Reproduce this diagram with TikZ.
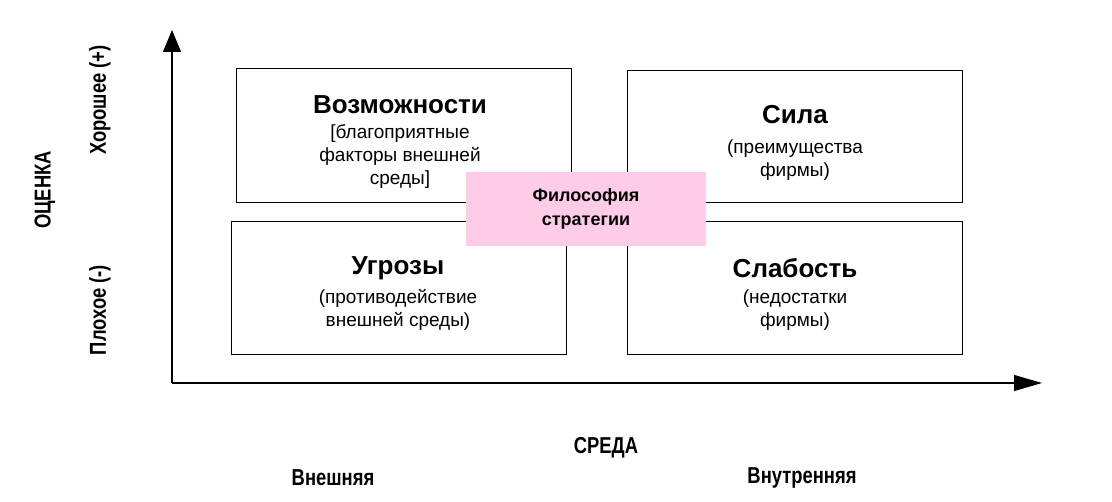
\documentclass[tikz,border=0pt]{standalone}
\usepackage{fontspec}
\setmainfont{Liberation Sans}
\usetikzlibrary{arrows.meta}
\definecolor{pinkf}{RGB}{255,204,232}
\begin{document}
\begin{tikzpicture}[x=1pt,y=-1pt,
 qbox/.style={draw,line width=0.8pt,fill=white,align=center,anchor=north west},
 ttl/.style={font=\fontsize{26}{28}\selectfont\bfseries},
 sub/.style={font=\fontsize{19}{23}\selectfont},
 ax/.style={font=\fontsize{23}{26}\selectfont\bfseries,xscale=0.8},
 axr/.style={font=\fontsize{23}{26}\selectfont\bfseries,yscale=0.8,rotate=90}]
\useasboundingbox (0,0) rectangle (1112,502);
\coordinate (o) at (172,383);
\coordinate (yt) at (172,30);
\coordinate (xt) at (1042,383);
\draw[line width=1.2pt,-{Triangle[length=22pt,width=18pt]}] (o) -- (yt);
\draw[line width=1.2pt,-{Triangle[length=28pt,width=16pt]}] (o) -- (xt);
\node[qbox,minimum width=335pt,minimum height=134pt] (v) at (236,68) {};
\node[qbox,minimum width=335pt,minimum height=132pt] (s) at (627,70) {};
\node[qbox,minimum width=335pt,minimum height=133pt] (u) at (231,221) {};
\node[qbox,minimum width=335pt,minimum height=133pt] (w) at (627,221) {};
\node[ttl] at (400,105) {Возможности};
\node[sub,align=center] at (400,157) {[благоприятные\\факторы внешней\\среды]};
\node[ttl] at (795,115) {Сила};
\node[sub,align=center] at (795,160) {(преимущества\\фирмы)};
\node[ttl] at (398,268) {Угрозы};
\node[sub,align=center] at (398,310) {(противодействие\\внешней среды)};
\node[ttl] at (795,268) {Слабость};
\node[sub,align=center] at (795,310) {(недостатки\\фирмы)};
\node[fill=pinkf,minimum width=240pt,minimum height=74pt,anchor=north west,inner sep=0] (f) at (466,172) {};
\node[font=\fontsize{18}{24}\selectfont\bfseries,align=center] at (586,209) {Философия\\стратегии};
\node[axr] at (100,100) {Хорошее (+)};
\node[axr] at (100,310) {Плохое (-)};
\node[axr] at (45,190) {ОЦЕНКА};
\node[ax] at (606,448) {СРЕДА};
\node[ax] at (333,478) {Внешняя};
\node[ax] at (802,478) {Внутренняя};
\end{tikzpicture}
\end{document}
